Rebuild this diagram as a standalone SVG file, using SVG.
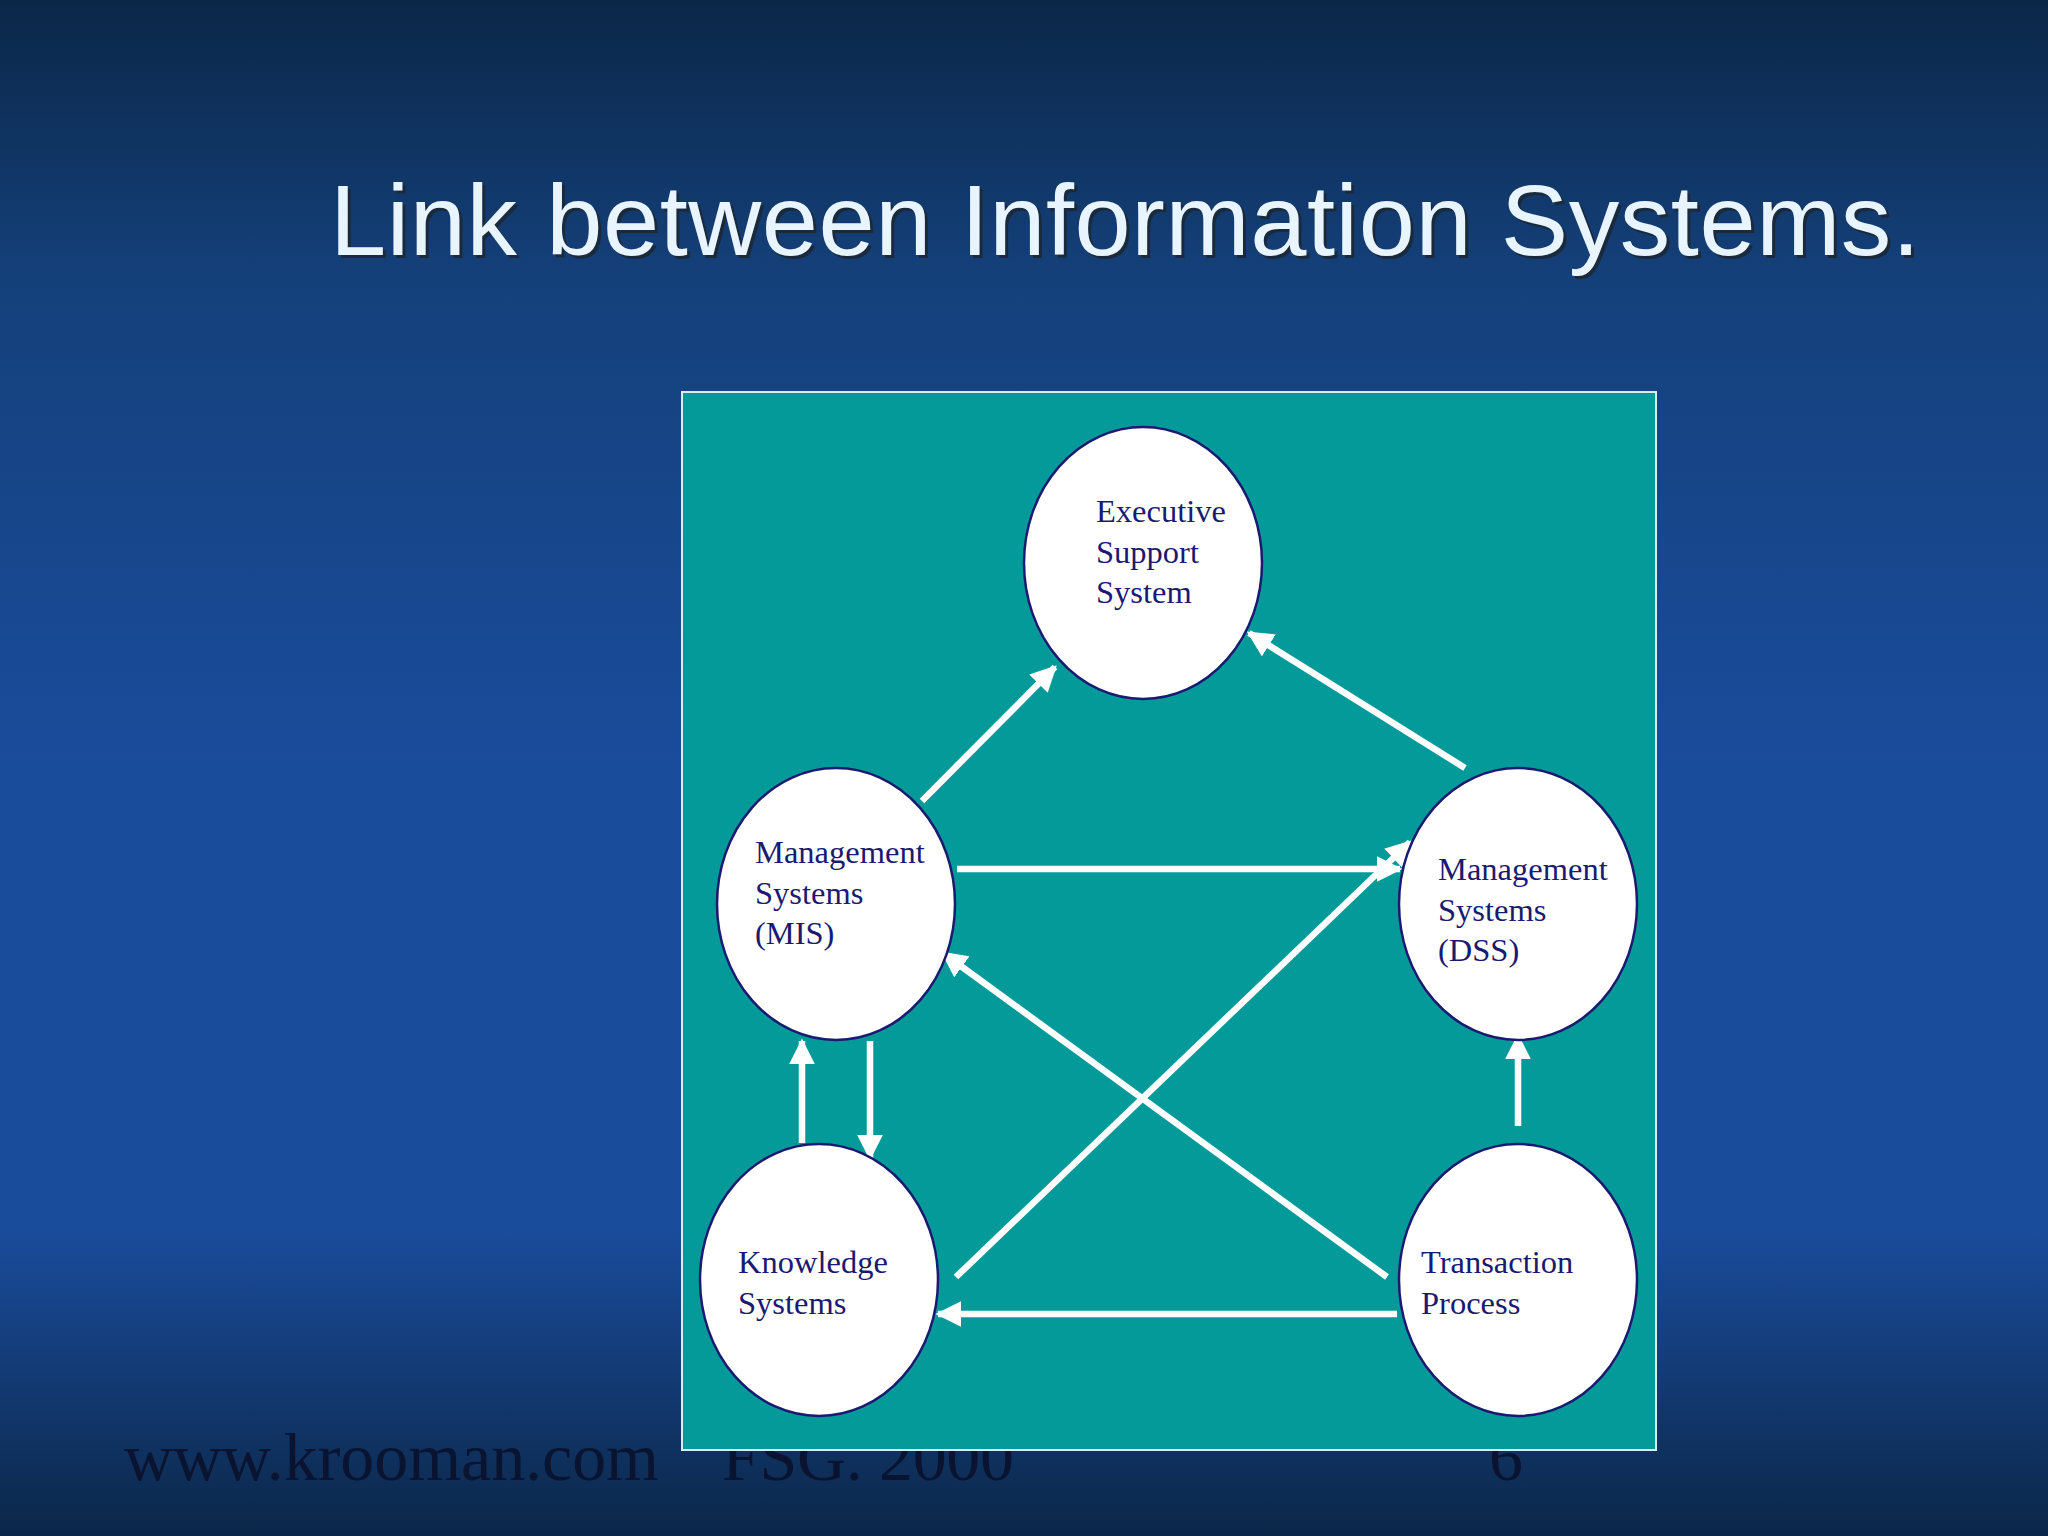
<svg xmlns="http://www.w3.org/2000/svg" width="2048" height="1536" viewBox="0 0 2048 1536">
<defs>
<linearGradient id="bg" x1="0" y1="0" x2="0" y2="1">
<stop offset="0" stop-color="#0b2748"/>
<stop offset="0.18" stop-color="#14407a"/>
<stop offset="0.5" stop-color="#1a4c9c"/>
<stop offset="0.8" stop-color="#1a4c9c"/>
<stop offset="1" stop-color="#0b2748"/>
</linearGradient>
<marker id="ah" viewBox="0 0 10 10" refX="9" refY="5" markerWidth="4" markerHeight="4" orient="auto" markerUnits="strokeWidth">
<path d="M0,0 L10,5 L0,10 z" fill="#fff"/>
</marker>
<style>
.node ellipse{fill:#fff;stroke:#1a1a70;stroke-width:2.5}
.node text{font-family:"Liberation Serif",serif;font-size:32.5px;fill:#1a1a70}
#connectors line{stroke:#fff;stroke-width:6.5;marker-end:url(#ah)}
.foot{font-family:"Liberation Serif",serif;font-size:68px;fill:#0a1430}
</style>
</defs>
<rect width="2048" height="1536" fill="url(#bg)"/>
<text x="333" y="258" font-family="Liberation Sans, sans-serif" font-size="101" textLength="1590" fill="#1a2a3a">Link between Information Systems.</text>
<text x="330" y="255" font-family="Liberation Sans, sans-serif" font-size="101" textLength="1590" fill="#e8f4ff">Link between Information Systems.</text>
<text class="foot" x="124" y="1480" textLength="535">www.krooman.com</text>
<text class="foot" x="722" y="1480" textLength="292">FSG. 2000</text>
<text class="foot" x="1489" y="1480">6</text>
<rect x="682" y="392" width="974" height="1058" fill="#049a9a" stroke="#d8eef0" stroke-width="2"/>
<g id="connectors">
<line x1="922" y1="801" x2="1055" y2="667"/>
<line x1="1465" y1="768" x2="1249" y2="633"/>
<line x1="957" y1="869" x2="1400" y2="869"/>
<line x1="956" y1="1277" x2="1410" y2="842"/>
<line x1="1387" y1="1277" x2="943" y2="953"/>
<line x1="1397" y1="1314" x2="938" y2="1314"/>
<line x1="802" y1="1143" x2="802" y2="1041"/>
<line x1="870" y1="1041" x2="870" y2="1158"/>
<line x1="1518" y1="1126" x2="1518" y2="1036"/>
</g>
<g id="ess" class="node"><ellipse cx="1143" cy="563" rx="119" ry="136"/>
<text x="1096" y="522">Executive</text><text x="1096" y="563">Support</text><text x="1096" y="603">System</text></g>
<g id="mis" class="node"><ellipse cx="836" cy="904" rx="119" ry="136"/>
<text x="755" y="863">Management</text><text x="755" y="904">Systems</text><text x="755" y="944">(MIS)</text></g>
<g id="dss" class="node"><ellipse cx="1518" cy="904" rx="119" ry="136"/>
<text x="1438" y="880">Management</text><text x="1438" y="921">Systems</text><text x="1438" y="961">(DSS)</text></g>
<g id="ks" class="node"><ellipse cx="819" cy="1280" rx="119" ry="136"/>
<text x="738" y="1273">Knowledge</text><text x="738" y="1314">Systems</text></g>
<g id="tp" class="node"><ellipse cx="1518" cy="1280" rx="119" ry="136"/>
<text x="1421" y="1273">Transaction</text><text x="1421" y="1314">Process</text></g>
</svg>
